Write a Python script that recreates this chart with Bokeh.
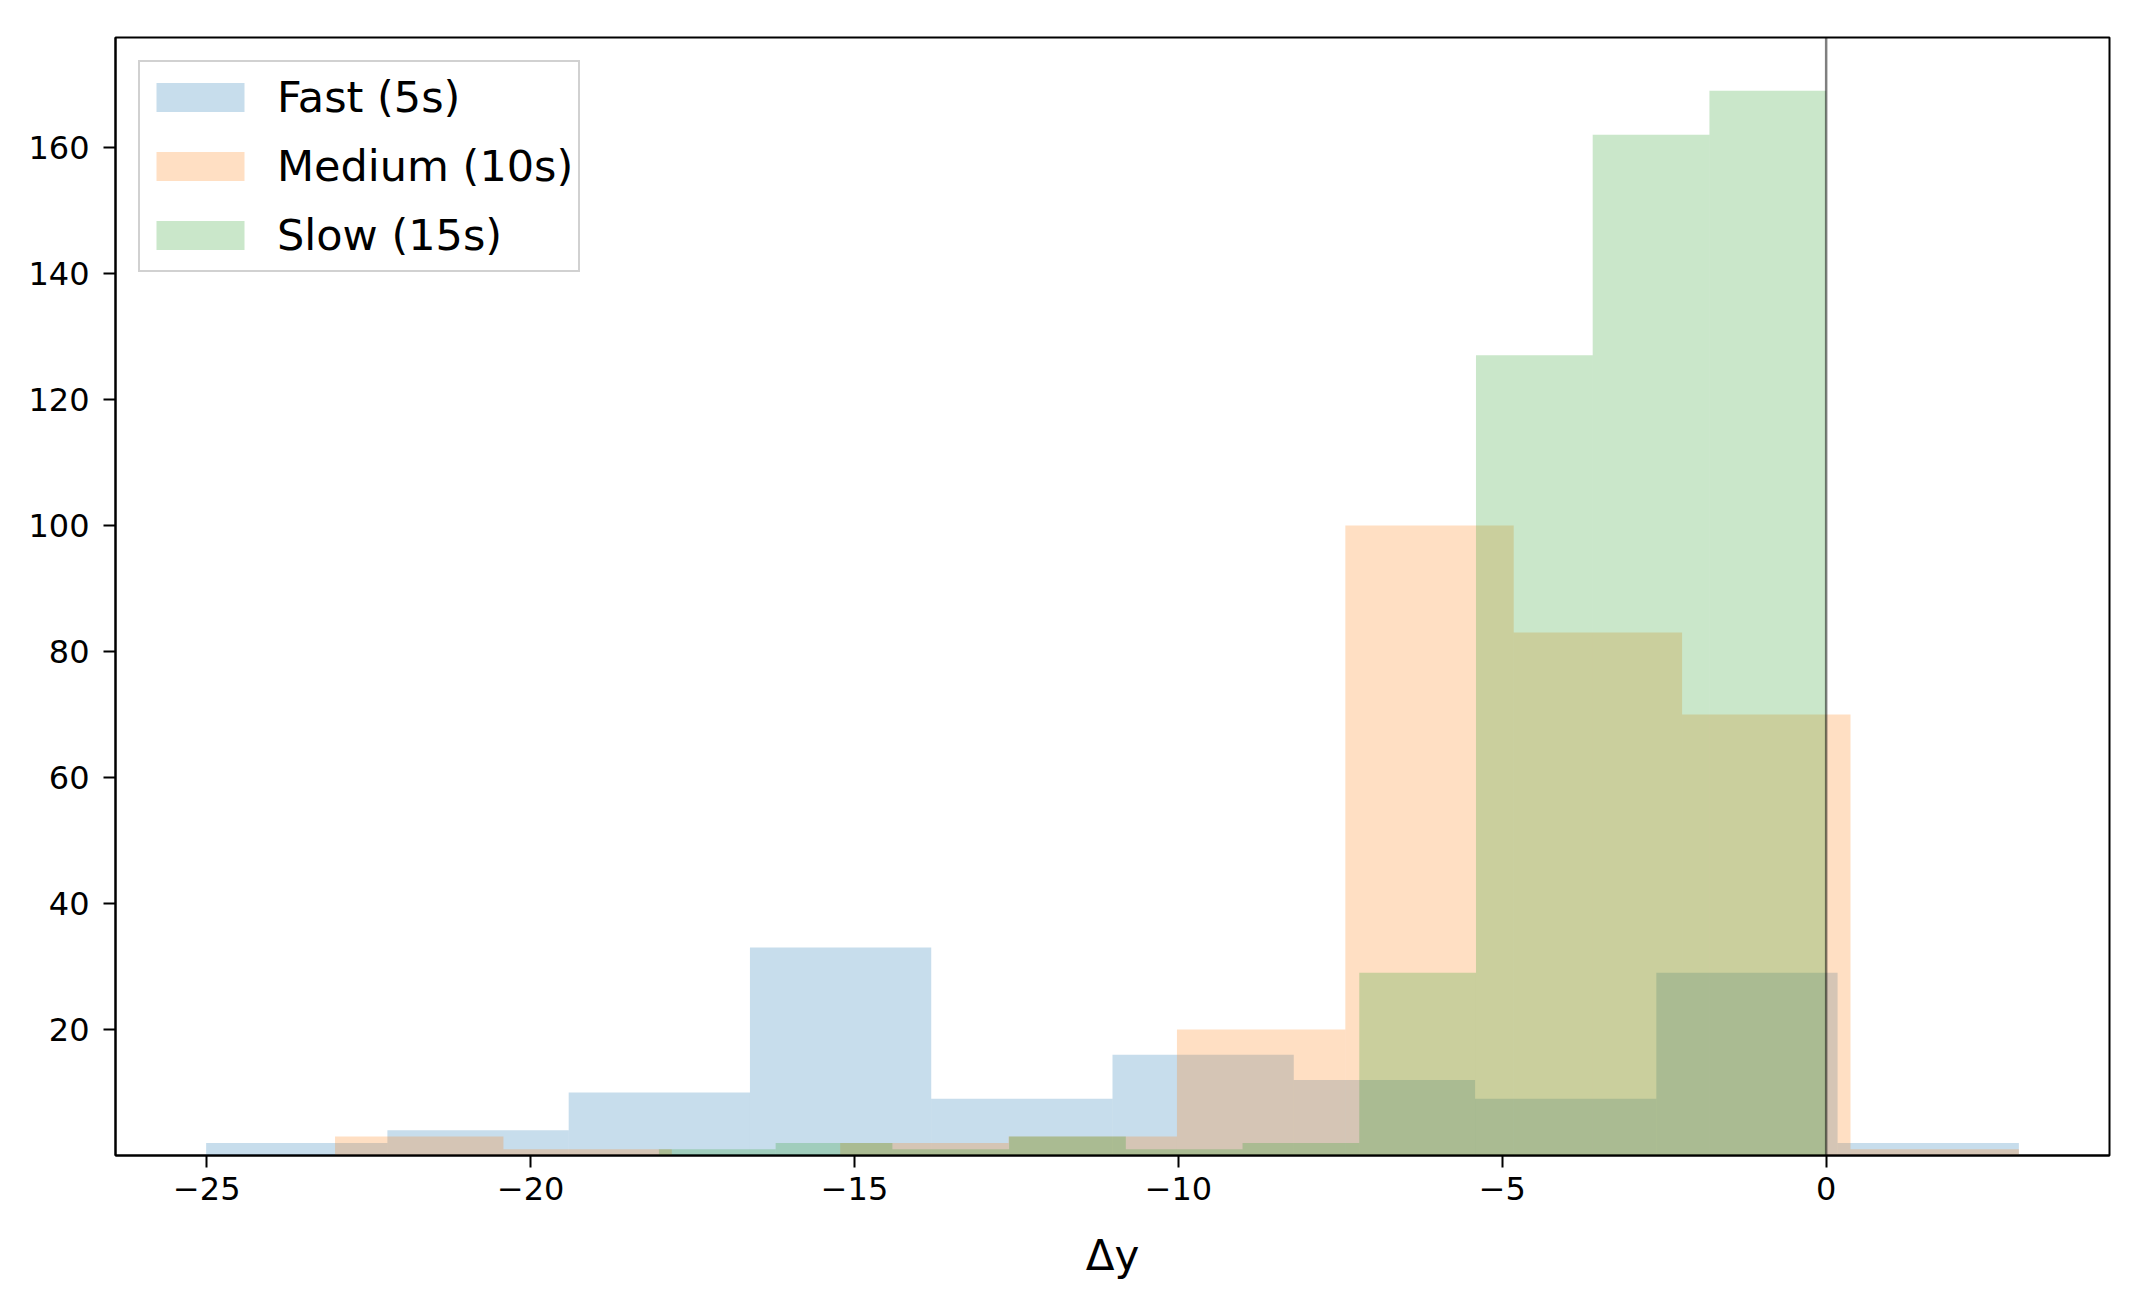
import numpy as np
from bokeh.plotting import figure
from bokeh.models import (ColumnDataSource, Range1d, FixedTicker, Span, Legend,
                          LegendItem, CustomJSTickFormatter)
from bokeh.embed import file_html
from bokeh.resources import INLINE

# ---- data ----
series_names = ["Fast (5s)", "Medium (10s)", "Slow (15s)"]
fast_range = (-25.01, 2.975)
fast_counts = [2, 4, 10, 33, 9, 16, 12, 9, 29, 2]
medium_range = (-23.02, 2.975)
medium_counts = [3, 1, 0, 2, 3, 20, 100, 83, 70, 1]
slow_range = (-18.02, 0.0)
slow_counts = [1, 2, 1, 3, 1, 2, 29, 127, 162, 169]
x_ticks = [-25, -20, -15, -10, -5, 0]
y_ticks = [20, 40, 60, 80, 100, 120, 140, 160]
colors = ["#1f77b4", "#ff7f0e", "#2ca02c"]

FONT = "DejaVu Sans"

data_min = min(fast_range[0], medium_range[0], slow_range[0])
data_max = max(fast_range[1], medium_range[1], slow_range[1])
span = data_max - data_min
ymax = max(max(fast_counts), max(medium_counts), max(slow_counts))

p = figure(width=2119, height=1287, output_backend="svg", toolbar_location=None,
           x_range=Range1d(data_min - 0.05 * span, data_max + 0.05 * span),
           y_range=Range1d(0, ymax * 1.05),
           min_border_left=115, min_border_right=10, min_border_top=37,
           min_border_bottom=132)
p.xgrid.visible = False
p.ygrid.visible = False
p.outline_line_color = "black"
p.outline_line_width = 2
p.background_fill_color = "white"
p.border_fill_color = "white"

renderers = []
for rng, counts, col in [(fast_range, fast_counts, colors[0]),
                         (medium_range, medium_counts, colors[1]),
                         (slow_range, slow_counts, colors[2])]:
    edges = np.linspace(rng[0], rng[1], len(counts) + 1)
    src = ColumnDataSource(dict(left=edges[:-1], right=edges[1:],
                                top=counts, bottom=[0] * len(counts)))
    r = p.quad(left="left", right="right", top="top", bottom="bottom", source=src,
               fill_color=col, fill_alpha=0.25, line_color=None)
    renderers.append(r)

p.add_layout(Span(location=0, dimension="height", line_color="black",
                  line_alpha=0.5, line_width=2.5))

legend = Legend(items=[LegendItem(label=n, renderers=[r])
                       for n, r in zip(series_names, renderers)],
                location="top_left", margin=23, padding=5, spacing=9,
                glyph_width=110, glyph_height=36, label_height=60,
                label_standoff=22,
                label_text_font=FONT, label_text_font_size="43px",
                label_text_color="black",
                border_line_color="#cccccc", border_line_width=2,
                border_line_alpha=0.9,
                background_fill_color="white", background_fill_alpha=0.8)
p.add_layout(legend, "center")

fmt = CustomJSTickFormatter(code="return tick < 0 ? '\u2212' + Math.abs(tick) : '' + tick;")

for ax in (p.xaxis[0], p.yaxis[0]):
    ax.axis_line_color = "black"
    ax.axis_line_width = 2
    ax.major_tick_line_color = "black"
    ax.major_tick_line_width = 2
    ax.major_tick_out = 12
    ax.major_tick_in = 0
    ax.minor_tick_line_color = None
    ax.major_label_text_font = FONT
    ax.major_label_text_font_size = "32px"
    ax.major_label_text_color = "black"

p.xaxis.ticker = FixedTicker(ticks=x_ticks)
p.yaxis.ticker = FixedTicker(ticks=y_ticks)
p.xaxis.formatter = fmt
p.xaxis.major_label_standoff = 9
p.yaxis.major_label_standoff = 14
p.xaxis.axis_label = "Δy"
p.xaxis.axis_label_text_font = FONT
p.xaxis.axis_label_text_font_size = "42px"
p.xaxis.axis_label_text_font_style = "normal"
p.xaxis.axis_label_text_color = "black"
p.xaxis.axis_label_standoff = 28

open("out.html", "w").write(file_html(p, INLINE))
